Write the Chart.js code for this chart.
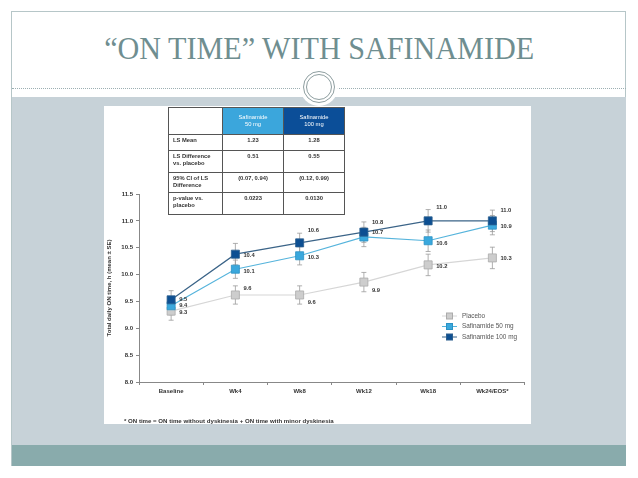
<!DOCTYPE html>
<html>
<head>
<meta charset="utf-8">
<script src="https://cdn.jsdelivr.net/npm/chart.js@4.4.0/dist/chart.umd.min.js"></script>
<style>
html, body { margin: 0; padding: 0; background: #fff; }
body { width: 638px; height: 478px; position: relative; overflow: hidden; font-family: "Liberation Sans", Arial, sans-serif; }
.frame { position: absolute; left: 11px; top: 11px; width: 615px; height: 455px; border: 1px solid #b6c6c8; box-sizing: border-box; }
.panel { position: absolute; left: 12px; top: 97px; width: 614px; height: 348px; background: #c7d2d8; }
.band { position: absolute; left: 12px; top: 445px; width: 614px; height: 21px; background: #89abac; }
.dots { position: absolute; left: 12px; top: 88px; width: 614px; border-top: 1px dotted #9cafb2; }
.disc { position: absolute; left: 300px; top: 68px; width: 38px; height: 38px; border-radius: 50%; background: #fff; }
.ring { position: absolute; border-radius: 50%; border: 1px solid #8e9ea0; box-sizing: border-box; }
#title { position: absolute; left: 0; top: 33px; width: 638px; text-align: center; line-height: 31px;
  font-family: "Liberation Serif", "DejaVu Serif", serif; font-size: 31px; color: #6f8e90; white-space: nowrap; }
#title span { display: inline-block; transform-origin: center; }
.white { position: absolute; left: 104px; top: 106px; width: 427px; height: 318px; background: #fff; }
#chartWrap { position: absolute; left: 104px; top: 106px; width: 427px; height: 318px; }
#tbl { position: absolute; left: 168px; top: 107px; border-collapse: collapse; font-size: 5.8px; font-weight: bold; color: #333; }
#tbl td { border: 1px solid #555; padding: 2px 4px; vertical-align: top; line-height: 7px; }
#tbl td.v { text-align: center; }
#tbl td.h { color: #fff; text-align: center; vertical-align: middle; font-weight: normal; }
#note { position: absolute; left: 124px; top: 417px; font-size: 6.1px; font-weight: bold; color: #333; white-space: nowrap; }
</style>
</head>
<body>
<div class="frame"></div>
<div class="panel"></div>
<div class="band"></div>
<div class="dots"></div>
<div class="disc"></div>
<div class="ring" style="left:303px;top:71px;width:32px;height:32px;"></div>
<div class="ring" style="left:306px;top:74px;width:26px;height:26px;"></div>
<div id="title"><span>“ON TIME” WITH SAFINAMIDE</span></div>
<div class="white"></div>
<div id="chartWrap"><canvas id="onChart"></canvas></div>
<table id="tbl"></table>
<div id="note">* ON time = ON time without dyskinesia + ON time with minor dyskinesia</div>

<script>
// datos
const weeks = ['Baseline', 'Wk4', 'Wk8', 'Wk12', 'Wk18', 'Wk24/EOS*'];
const placebo = [9.32, 9.62, 9.62, 9.86, 10.18, 10.31];
const safi50 = [9.42, 10.10, 10.35, 10.70, 10.63, 10.92];
const safi100 = [9.53, 10.38, 10.59, 10.79, 11.0, 11.0];
const placeboSE = [0.17, 0.17, 0.17, 0.18, 0.20, 0.20];
const safi50SE = [0.17, 0.17, 0.17, 0.18, 0.20, 0.18];
const safi100SE = [0.17, 0.20, 0.18, 0.19, 0.21, 0.20];
const placeboLabels = ['9.3', '9.6', '9.6', '9.9', '10.2', '10.3'];
const safi50Labels = ['9.4', '10.1', '10.3', '10.7', '10.6', '10.9'];
const safi100Labels = ['9.5', '10.4', '10.6', '10.8', '11.0', '11.0'];
const yMin = 8.0, yMax = 11.5, yStep = 0.5;

// tabla
const tableHeaders = ['Safinamide<br>50 mg', 'Safinamide<br>100 mg'];
const tableRows = ['LS Mean', 'LS Difference<br>vs. placebo', '95% CI of LS<br>Difference', 'p-value vs.<br>placebo'];
const col50 = ['1.23', '0.51', '(0.07, 0.94)', '0.0223'];
const col100 = ['1.28', '0.55', '(0.12, 0.99)', '0.0130'];

// titulo ajustado al ancho
const t = document.querySelector('#title span');
t.style.transform = 'scaleX(' + (430 / t.getBoundingClientRect().width) + ')';

// construir tabla
const tbl = document.getElementById('tbl');
const rowHeights = [27, 16, 22, 20, 22];
let html = '<tr style="height:' + rowHeights[0] + 'px"><td style="width:45px"></td>' +
    '<td class="h" style="width:52px;background:#3ba6dc">' + tableHeaders[0] + '</td>' +
    '<td class="h" style="width:52px;background:#0b4e98">' + tableHeaders[1] + '</td></tr>';
tableRows.forEach((r, i) => {
    html += '<tr style="height:' + rowHeights[i + 1] + 'px"><td>' + r + '</td><td class="v">' + col50[i] +
        '</td><td class="v">' + col100[i] + '</td></tr>';
});
tbl.innerHTML = html;

// estilo de etiquetas (desplazamiento vertical en px)
const labelShift = {
    placebo: [1, -7, 7, 8, 1, 0],
    safi50: [0, 2, 2, -5, 3, 1],
    safi100: [0, 1, -12, -10, -13, -10]
};

const errorBars = {
    id: 'errorBars',
    beforeDatasetsDraw(chart) {
        const ctx = chart.ctx;
        const y = chart.scales.y;
        ctx.save();
        ctx.strokeStyle = '#9c9c9c';
        ctx.lineWidth = 0.8;
        chart.data.datasets.forEach((ds, di) => {
            const meta = chart.getDatasetMeta(di);
            meta.data.forEach((pt, i) => {
                const top = y.getPixelForValue(ds.data[i] + ds.se[i]);
                const bot = y.getPixelForValue(ds.data[i] - ds.se[i]);
                ctx.beginPath();
                ctx.moveTo(pt.x, top); ctx.lineTo(pt.x, bot);
                ctx.moveTo(pt.x - 2.5, top); ctx.lineTo(pt.x + 2.5, top);
                ctx.moveTo(pt.x - 2.5, bot); ctx.lineTo(pt.x + 2.5, bot);
                ctx.stroke();
            });
        });
        ctx.restore();
    }
};

const valueLabels = {
    id: 'valueLabels',
    afterDatasetsDraw(chart) {
        const ctx = chart.ctx;
        ctx.save();
        ctx.font = 'bold 5.8px "Liberation Sans", Arial';
        ctx.fillStyle = '#333';
        ctx.textAlign = 'left';
        ctx.textBaseline = 'middle';
        chart.data.datasets.forEach((ds, di) => {
            const meta = chart.getDatasetMeta(di);
            meta.data.forEach((pt, i) => {
                ctx.fillText(ds.valueText[i], pt.x + 8, pt.y + ds.shift[i]);
            });
        });
        ctx.restore();
    }
};

// leyenda con linea y marcador
const lineLegend = {
    id: 'lineLegend',
    afterDraw(chart) {
        const ctx = chart.ctx;
        const order = [2, 1, 0];
        ctx.save();
        ctx.font = '6.4px "Liberation Sans", Arial';
        ctx.textBaseline = 'middle';
        order.forEach((di, row) => {
            const ds = chart.data.datasets[di];
            const yy = 210 + row * 10.5;
            ctx.strokeStyle = ds.borderColor;
            ctx.lineWidth = 1;
            ctx.beginPath();
            ctx.moveTo(338, yy); ctx.lineTo(353, yy);
            ctx.stroke();
            ctx.fillStyle = ds.pointBackgroundColor;
            ctx.strokeStyle = ds.pointBorderColor;
            ctx.fillRect(342.5, yy - 3, 6, 6);
            ctx.strokeRect(342.5, yy - 3, 6, 6);
            ctx.fillStyle = '#555';
            ctx.fillText(ds.label, 358, yy);
        });
        ctx.restore();
    }
};

const onCtx = document.getElementById('onChart').getContext('2d');
new Chart(onCtx, {
    type: 'line',
    data: {
        labels: weeks,
        datasets: [{
            label: 'Safinamide 100 mg',
            data: safi100,
            se: safi100SE,
            valueText: safi100Labels,
            shift: labelShift.safi100,
            borderColor: '#3b6488',
            borderWidth: 1.2,
            pointStyle: 'rect',
            pointRadius: 5.7,
            pointBackgroundColor: '#0d4f92',
            pointBorderColor: '#2c5f8e',
            pointBorderWidth: 0.8
        }, {
            label: 'Safinamide 50 mg',
            data: safi50,
            se: safi50SE,
            valueText: safi50Labels,
            shift: labelShift.safi50,
            borderColor: '#56b4dc',
            borderWidth: 1.2,
            pointStyle: 'rect',
            pointRadius: 5.7,
            pointBackgroundColor: '#3aa8dd',
            pointBorderColor: '#2b92c4',
            pointBorderWidth: 0.8
        }, {
            label: 'Placebo',
            data: placebo,
            se: placeboSE,
            valueText: placeboLabels,
            shift: labelShift.placebo,
            borderColor: '#d6d6d6',
            borderWidth: 1.2,
            pointStyle: 'rect',
            pointRadius: 5.7,
            pointBackgroundColor: '#cdcdcd',
            pointBorderColor: '#ababab',
            pointBorderWidth: 0.8
        }]
    },
    options: {
        responsive: true,
        maintainAspectRatio: false,
        animation: false,
        layout: { padding: { left: 0, top: 88, right: 1, bottom: 0 } },
        plugins: {
            legend: { display: false },
            tooltip: { enabled: false }
        },
        scales: {
            x: {
                offset: true,
                grid: { offset: true, drawOnChartArea: false, tickLength: 3, color: '#888' },
                border: { color: '#888', width: 1 },
                ticks: { padding: 3, color: '#333', font: { size: 6, weight: 'bold' }, maxRotation: 0 },
                afterFit(scale) { scale.height = 42; }
            },
            y: {
                min: yMin,
                max: yMax,
                grid: { drawOnChartArea: false, tickLength: 3, color: '#888' },
                border: { color: '#888', width: 1 },
                ticks: {
                    stepSize: yStep,
                    padding: 3,
                    color: '#333',
                    font: { size: 6, weight: 'bold' },
                    callback: v => v.toFixed(1)
                },
                title: {
                    display: true,
                    text: 'Total daily ON time, h (mean ± SE)',
                    color: '#333',
                    font: { size: 6, weight: 'bold' },
                    padding: { top: 2, bottom: 0 }
                },
                afterFit(scale) { scale.width = 35; }
            }
        }
    },
    plugins: [errorBars, valueLabels, lineLegend]
});
</script>
</body>
</html>
